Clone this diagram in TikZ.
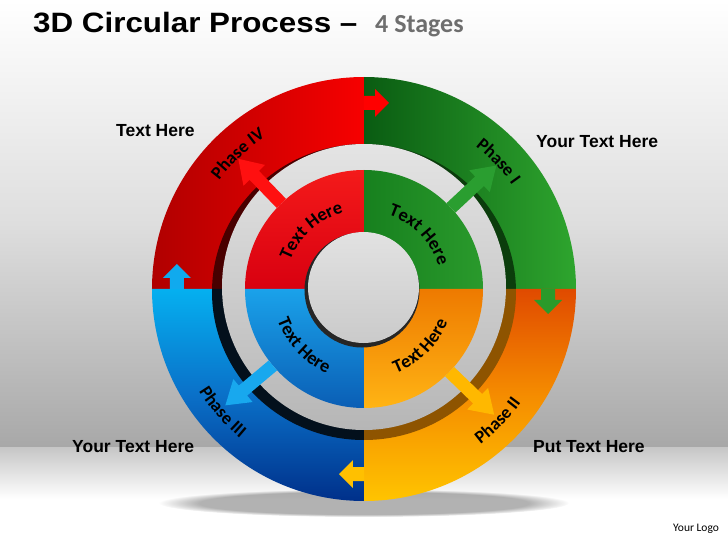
\documentclass[tikz,border=0pt]{standalone}
\usepackage{fontspec}
\setmainfont{Liberation Sans}
\newfontfamily\carlito{Carlito}
\usetikzlibrary{decorations.text,fadings}

\definecolor{wallM}{HTML}{DEDEDE}
\definecolor{wallB}{HTML}{A8A8A8}
\definecolor{floorT}{HTML}{C6C6C6}
\definecolor{redA}{HTML}{B00000}
\definecolor{redB}{HTML}{F70000}
\definecolor{grnA}{HTML}{0A5C12}
\definecolor{grnB}{HTML}{2EA52E}
\definecolor{orgA}{HTML}{E04A00}
\definecolor{orgM}{HTML}{F58C00}
\definecolor{orgB}{HTML}{FFC400}
\definecolor{bluA}{HTML}{05B0F0}
\definecolor{bluM}{HTML}{0A70C8}
\definecolor{bluB}{HTML}{00308A}
\definecolor{iredA}{HTML}{F41A1A}
\definecolor{iredB}{HTML}{D80010}
\definecolor{igrnA}{HTML}{17801E}
\definecolor{igrnB}{HTML}{2A9A2C}
\definecolor{iblA}{HTML}{1AA2EA}
\definecolor{iblB}{HTML}{0A5EB5}
\definecolor{iorA}{HTML}{EE7A00}
\definecolor{iorB}{HTML}{FFB414}
\definecolor{bRed}{HTML}{480000}
\definecolor{bGrn}{HTML}{0B3D0C}
\definecolor{bBlu}{HTML}{03101C}
\definecolor{bOrg}{HTML}{8E5400}
\definecolor{holeT}{HTML}{E4E4E4}
\definecolor{holeB}{HTML}{B6B6B6}
\definecolor{ihT}{HTML}{E2E2E2}
\definecolor{ihB}{HTML}{CACACA}
\definecolor{aRed}{HTML}{FF1010}
\definecolor{aGrn}{HTML}{2A9E30}
\definecolor{aBlu}{HTML}{18A8EE}
\definecolor{aYel}{HTML}{FFB800}
\definecolor{nRed}{HTML}{FF0000}
\definecolor{nGrn}{HTML}{2A9A2A}
\definecolor{nYel}{HTML}{FFC000}
\definecolor{nBlu}{HTML}{10AAEE}
\definecolor{stageGray}{HTML}{6E6E6E}

\tikzset{
  notch/.pic={\path[pic actions] (0,-7) -- (11,-7) -- (11,-14) -- (25,0) -- (11,14) -- (11,7) -- (0,7) -- cycle;},
  diag/.pic={\path[pic actions] (119,-6.5) -- (158,-6.5) -- (158,-15) -- (181,0) -- (158,15) -- (158,6.5) -- (119,6.5) -- cycle;},
  phasetxt/.style={decorate, decoration={text along path, text align=center,
      text={|\carlito\bfseries\fontsize{18}{19}\selectfont|#1}}},
  innertxt/.style={decorate, decoration={text along path, text align=center,
      text={|\carlito\bfseries\fontsize{18.5}{19}\selectfont|#1}}},
  lbl/.style={anchor=base west, inner sep=0pt, font=\bfseries\fontsize{17.5}{19}\selectfont}
}

\begin{document}
\begin{tikzpicture}[x=1pt,y=1pt]
\useasboundingbox (-364,-257) rectangle (364,289);
% background
\fill[white] (-364,-257) rectangle (364,289);
\shade[top color=white, bottom color=wallB, middle color=wallM] (-364,-158) rectangle (364,289);
\shade[top color=floorT, bottom color=white] (-364,-210) rectangle (364,-158);
\fill[black, opacity=0.3, path fading=circle with fuzzy edge 20 percent] (0,-214) ellipse[x radius=205, y radius=14];

% outer ring faces
\shade[left color=redA, right color=redB] (0,0) -- (90:212) arc[start angle=90,end angle=180,radius=212] -- cycle;
\shade[left color=grnA, right color=grnB] (0,0) -- (0:212) arc[start angle=0,end angle=90,radius=212] -- cycle;
\shade[top color=orgA, bottom color=orgB, middle color=orgM] (0,0) -- (270:212) arc[start angle=270,end angle=360,radius=212] -- cycle;
\shade[top color=bluA, bottom color=bluB, middle color=bluM] (0,0) -- (180:212) arc[start angle=180,end angle=270,radius=212] -- cycle;

% inner wall bands
\begin{scope}
  \clip (0,0) -- (90:220) arc[start angle=90,end angle=180,radius=220] -- cycle;
  \fill[bRed] (0,-3) ellipse[x radius=152, y radius=148];
\end{scope}
\begin{scope}
  \clip (0,0) -- (0:220) arc[start angle=0,end angle=90,radius=220] -- cycle;
  \fill[bGrn] (0,-3) ellipse[x radius=152, y radius=148];
\end{scope}
\begin{scope}
  \clip (0,0) -- (180:220) arc[start angle=180,end angle=270,radius=220] -- cycle;
  \fill[bBlu] (0,-3) ellipse[x radius=152, y radius=148];
\end{scope}
\begin{scope}
  \clip (0,0) -- (270:220) arc[start angle=270,end angle=360,radius=220] -- cycle;
  \fill[bOrg] (0,-3) ellipse[x radius=152, y radius=148];
\end{scope}
% gap
\shade[top color=holeT, bottom color=holeB] (0,2) ellipse[x radius=142, y radius=143];

% inner ring
\shade[top color=iredA, bottom color=iredB] (0,0) -- (90:119) arc[start angle=90,end angle=180,radius=119] -- cycle;
\shade[left color=igrnA, right color=igrnB] (0,0) -- (0:119) arc[start angle=0,end angle=90,radius=119] -- cycle;
\shade[top color=iblA, bottom color=iblB] (0,0) -- (180:119) arc[start angle=180,end angle=270,radius=119] -- cycle;
\shade[top color=iorA, bottom color=iorB] (0,0) -- (270:119) arc[start angle=270,end angle=360,radius=119] -- cycle;
% centre hole
\fill[black!85] (-2,-1) circle[radius=57.5];
\shade[top color=ihT, bottom color=ihB] (-0.5,1.5) circle[radius=55.5];

% boundary arrows
\path (0,186) pic[fill=nRed] {notch};
\path (184,0) pic[fill=nGrn, rotate=-90] {notch};
\path (0,-185) pic[fill=nYel, rotate=180] {notch};
\path (-187,0) pic[fill=nBlu, rotate=90] {notch};

% diagonal arrows
\path (0,0) pic[fill=aRed, rotate=134] {diag};
\path (0,0) pic[fill=aGrn, rotate=43] {diag};
\path (0,0) pic[fill=aBlu, rotate=220] {diag};
\path (0,0) pic[fill=aYel, rotate=-44] {diag};

% curved texts
\path[phasetxt={Phase IV}] (160:181) arc[start angle=160, end angle=106, radius=181];
\path[phasetxt={Phase I}] (70.5:181) arc[start angle=70.5, end angle=16.5, radius=181];
\path[phasetxt={Phase III}] (194:194) arc[start angle=194, end angle=248, radius=194];
\path[phasetxt={Phase II}] (-71.5:194) arc[start angle=-71.5, end angle=-17.5, radius=194];

\path[innertxt={Text Here}] (177:79) arc[start angle=177, end angle=87, radius=79];
\path[innertxt={Text Here}] (89.5:78) arc[start angle=89.5, end angle=-0.5, radius=78];
\path[innertxt={Text Here}] (178:92) arc[start angle=178, end angle=268, radius=92];
\path[innertxt={Text Here}] (-90.5:90) arc[start angle=-90.5, end angle=-0.5, radius=90];

% labels
\node[lbl] (l1) at (-248,152) {Text Here};
\node[lbl] (l2) at (172,141) {Your Text Here};
\node[lbl] (l3) at (-292,-163) {Your Text Here};
\node[lbl] (l4) at (169,-163) {Put Text Here};
\node[anchor=base west, inner sep=0pt, font=\carlito\fontsize{11.5}{13}\selectfont] (logo) at (309,-242) {Your Logo};

% title
\node[anchor=base west, inner sep=0pt] (title) at (-331,256) {\scalebox{1.12}[1]{\bfseries\fontsize{28}{30}\selectfont 3D Circular Process –}};
\node[anchor=base west, inner sep=0pt, text=stageGray] (stages) at (11,256) {\carlito\bfseries\fontsize{26}{28}\selectfont 4 Stages};
\end{tikzpicture}
\end{document}
